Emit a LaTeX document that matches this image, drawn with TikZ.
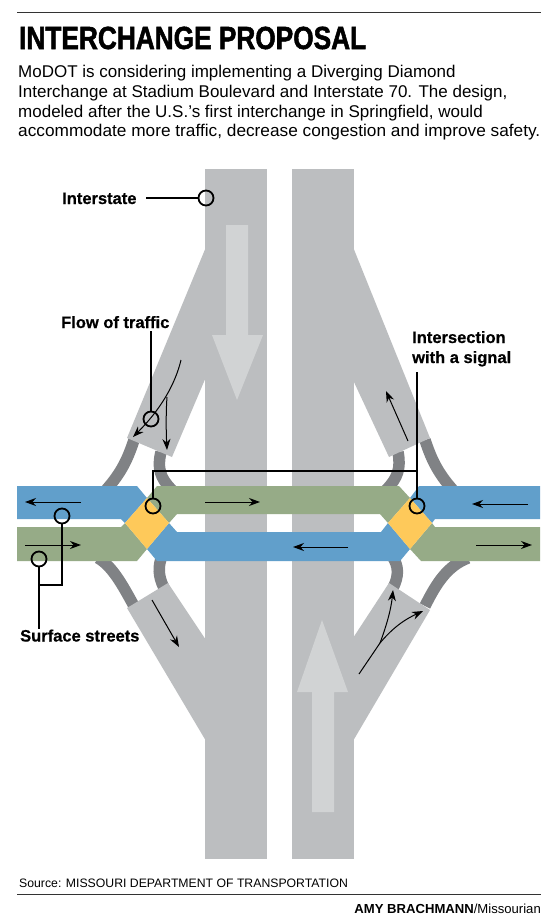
\documentclass[tikz,border=0pt]{standalone}
\usepackage{fontspec}
\usetikzlibrary{arrows.meta}
\setmainfont{Liberation Sans}
\newfontfamily\titlefont[BoldFont={Liberation Sans Bold},BoldFeatures={FakeStretch=0.82,FakeBold=1.6}]{Liberation Sans}
\newfontfamily\labelfont[BoldFont={Liberation Sans Bold},BoldFeatures={FakeBold=0.6}]{Liberation Sans}
\definecolor{road}{HTML}{BCBEC0}
\definecolor{pale}{HTML}{D1D3D4}
\definecolor{conn}{HTML}{808285}
\definecolor{bluer}{HTML}{619FCB}
\definecolor{greenr}{HTML}{96AB87}
\definecolor{yellowr}{HTML}{FEC95A}
\tikzset{
  ring/.style={circle,draw=black,line width=1.8pt,minimum size=15pt,inner sep=0pt},
  leader/.style={draw=black,line width=1.8pt},
  flow/.style={draw=black,line width=1pt,-{Stealth[length=11pt,width=8pt]}},
  flowplain/.style={draw=black,line width=1pt},
  link/.style={draw=conn,line width=11.5pt},
  lbl/.style={inner sep=0pt,font=\labelfont\fontsize{16.5}{20}\bfseries\selectfont,anchor=base west,text=black},
  body/.style={inner sep=0pt,anchor=base west,font=\fontsize{17}{20}\selectfont},
}
\begin{document}
\begin{tikzpicture}[x=1pt,y=-1pt]
\useasboundingbox (0,0) rectangle (552,921);
\fill[white] (0,0) rectangle (552,921);
% rules and text
\draw[line width=1pt,black!80] (17,12.5) -- (541,12.5);
\draw[line width=1pt,black!80] (17,894) -- (541,894);
\node[inner sep=0pt,anchor=base west] (title) at (19,49) {\titlefont\fontsize{32}{32}\bfseries\selectfont INTERCHANGE PROPOSAL};
\node[body] (l1) at (18,77) {MoDOT is considering implementing a Diverging Diamond};
\node[body] (l2) at (18,97) {Interchange at Stadium Boulevard and Interstate 70. The design,};
\node[body] (l3) at (18,117) {modeled after the U.S.’s first interchange in Springfield, would};
\node[body] (l4) at (18,136.5) {\addfontfeature{FakeStretch=1.015}accommodate more traffic, decrease congestion and improve safety.};
\node[inner sep=0pt,anchor=base west] (src) at (19,887) {\fontsize{12.25}{15}\selectfont Source: MISSOURI DEPARTMENT OF TRANSPORTATION};
\node[inner sep=0pt,anchor=base east] (credit) at (541,913) {\fontsize{13.1}{15}\selectfont\textbf{AMY BRACHMANN}/Missourian};
% connecting ramps
\draw[link] (134,440) .. controls (128,458) and (122,472) .. (106,490);
\draw[link] (161,452) .. controls (157,468) and (160,478) .. (172,490);
\draw[link] (98,558) .. controls (112,566) and (122,584) .. (134,606);
\draw[link] (162,556) .. controls (158,566) and (158,576) .. (164,588);
\draw[link] (425,440) .. controls (431,458) and (437,472) .. (453,490);
\draw[link] (398,452) .. controls (401,468) and (398,478) .. (386,490);
\draw[link] (468,558) .. controls (447,566) and (436,584) .. (425,606);
\draw[link] (392,556) .. controls (399,566) and (399,576) .. (393,588);
% interstates and ramps
\fill[road] (205,169) rectangle (267,859);
\fill[road] (292,169) rectangle (354,859);
\fill[road] (127,438) -- (172,457) -- (206,377) -- (206,247) -- cycle;
\fill[road] (430,438) -- (389,457) -- (353,380) -- (353,247) -- cycle;
\fill[road] (127,608) -- (168,583) -- (206,640) -- (206,741) -- cycle;
\fill[road] (430,610) -- (389,583) -- (353,638) -- (353,741) -- cycle;
% big arrows
\fill[pale] (226,225) -- (248,225) -- (248,335) -- (263,335) -- (237,400) -- (212,335) -- (226,335) -- cycle;
\fill[pale] (312,812) -- (334,812) -- (334,692) -- (348,692) -- (322,620) -- (297,692) -- (312,692) -- cycle;
% surface streets
\fill[bluer] (17,486) -- (137,486) -- (147,498) -- (125,523) -- (121,519) -- (17,519) -- cycle;
\fill[greenr] (17,527) -- (121,527) -- (125,523) -- (147,549) -- (137,561) -- (17,561) -- cycle;
\fill[greenr] (157,486) -- (399,486) -- (410,498) -- (388,523) -- (380,514) -- (177,514) -- (169,523) -- (147,498) -- cycle;
\fill[bluer] (169,523) -- (177,532) -- (381,532) -- (388,523) -- (410,549) -- (400,561) -- (157,561) -- (147,549) -- cycle;
\fill[bluer] (419,486) -- (540,486) -- (540,519) -- (435,519) -- (432,523) -- (410,498) -- cycle;
\fill[greenr] (435,527) -- (540,527) -- (540,561) -- (421,561) -- (410,549) -- (432,523) -- cycle;
\fill[yellowr] (125,523) -- (147,498) -- (169,523) -- (147,549) -- cycle;
\fill[yellowr] (388,523) -- (410,498) -- (432,523) -- (410,549) -- cycle;
% flow arrows
\coordinate (a1s) at (81,502); \coordinate (a1e) at (25,502);
\coordinate (a2s) at (25,545); \coordinate (a2e) at (81,545);
\coordinate (a3s) at (205,502); \coordinate (a3e) at (260,502);
\coordinate (a4s) at (348,547); \coordinate (a4e) at (293,547);
\coordinate (a5s) at (528,504); \coordinate (a5e) at (472,504);
\coordinate (a6s) at (476,545); \coordinate (a6e) at (532,545);
\coordinate (a7s) at (152,600); \coordinate (a7e) at (179,647);
\coordinate (a8s) at (408,441); \coordinate (a8e) at (386,391);
\foreach \n in {1,...,8} {\draw[flow] (a\n s) -- (a\n e);}
\coordinate (tls) at (181,360); \coordinate (tlb) at (167,397);
\coordinate (tle) at (133,437); \coordinate (tlf) at (167,450);
\draw[flow] (tls) .. controls (175,385) and (160,410) .. (tle);
\draw[flow] (tlb) .. controls (166,410) and (166,430) .. (tlf);
\coordinate (brs) at (359,674); \coordinate (brb) at (380,643);
\coordinate (bre) at (423,611); \coordinate (brf) at (393,590);
\draw[flowplain] (brs) -- (brb);
\draw[flow] (brb) .. controls (395,625) and (408,618) .. (bre);
\draw[flow] (brb) .. controls (386,627) and (391,610) .. (brf);
% labels and leaders
\node[lbl] (interstate) at (62,204) {Interstate};
\node[ring] (r1) at (206,198) {};
\coordinate (i1) at (146,198);
\draw[leader] (i1) -- (r1);
\node[lbl] (flowl) at (61,328) {Flow of traffic};
\node[ring] (r2) at (151,419) {};
\coordinate (f1) at (151,331);
\draw[leader] (f1) -- (r2);
\node[lbl] (inter1) at (412,343) {Intersection};
\node[lbl] (inter2) at (412,363) {with a signal};
\node[ring] (r3) at (417,506) {};
\node[ring] (r4) at (153,506) {};
\coordinate (s1) at (417,372);
\coordinate (s2) at (417,471);
\coordinate (s3) at (153,471);
\draw[leader] (s1) -- (r3);
\draw[leader] (s2) -- (s3) -- (r4);
\node[lbl] (surf) at (20,641.5) {Surface streets};
\node[ring] (r5) at (62,516) {};
\node[ring] (r6) at (39,559) {};
\coordinate (b1) at (62,585);
\coordinate (b2) at (39,585);
\coordinate (b3) at (39,629);
\draw[leader] (r5) -- (b1) -- (b2);
\draw[leader] (r6) -- (b3);
\end{tikzpicture}
\end{document}
